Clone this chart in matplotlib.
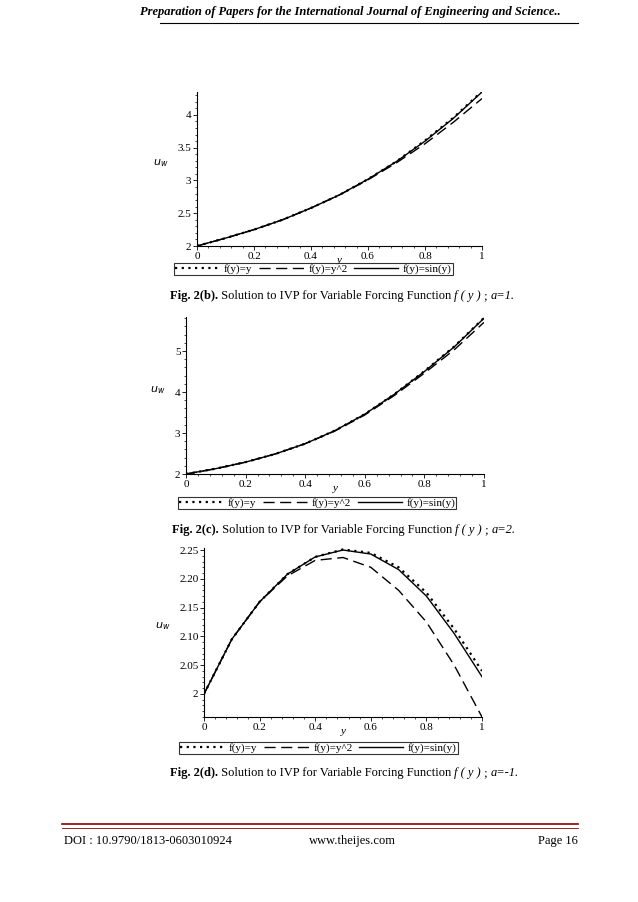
import numpy as np
import matplotlib
matplotlib.use('Agg')
import matplotlib.pyplot as plt
from matplotlib.ticker import MultipleLocator

plt.rcParams['font.family'] = ['Liberation Serif', 'DejaVu Serif']

W, H = 638, 902

y = [0.0, 0.1, 0.2, 0.3, 0.4, 0.5, 0.6, 0.7, 0.8, 0.9, 1.0]

# Fig 2(b), a=1
b_lin = [2.0, 2.12, 2.25, 2.40, 2.58, 2.78, 3.02, 3.29, 3.61, 3.96, 4.36]
b_sq = [2.0, 2.12, 2.25, 2.40, 2.58, 2.78, 3.01, 3.27, 3.56, 3.89, 4.25]
b_sin = [2.0, 2.12, 2.25, 2.40, 2.58, 2.78, 3.02, 3.29, 3.60, 3.95, 4.35]

# Fig 2(c), a=2
c_lin = [2.0, 2.13, 2.29, 2.49, 2.74, 3.06, 3.46, 3.95, 4.51, 5.11, 5.81]
c_sq = [2.0, 2.13, 2.29, 2.49, 2.74, 3.05, 3.44, 3.92, 4.46, 5.03, 5.70]
c_sin = [2.0, 2.13, 2.29, 2.49, 2.74, 3.06, 3.46, 3.95, 4.50, 5.10, 5.80]

# Fig 2(d), a=-1
d_lin = [2.0, 2.095, 2.16, 2.208, 2.238, 2.251, 2.245, 2.220, 2.176, 2.113, 2.040]
d_sq = [2.0, 2.095, 2.16, 2.205, 2.232, 2.237, 2.220, 2.180, 2.125, 2.050, 1.960]
d_sin = [2.0, 2.095, 2.16, 2.208, 2.238, 2.250, 2.243, 2.216, 2.170, 2.105, 2.030]

labels = ['f(y)=y', 'f(y)=y^2', 'f(y)=sin(y)']
captions = [('Fig. 2(b).', ' Solution to IVP for Variable Forcing Function ', 'f ( y )', ' ; ', 'a=1.'),
            ('Fig. 2(c).', ' Solution to IVP for Variable Forcing Function ', 'f ( y )', ' ; ', 'a=2.'),
            ('Fig. 2(d).', ' Solution to IVP for Variable Forcing Function ', 'f ( y )', ' ; ', 'a=-1.')]

fig = plt.figure(figsize=(W / 100, H / 100), dpi=100)


def rect(l, r, b, t):
    return [l / W, 1 - b / H, (r - l) / W, (b - t) / H]


panels = [
    dict(box=(197, 482, 246, 92), ylim=(2, 4.35), ymaj=0.5, ymin=0.1, data=(b_lin, b_sq, b_sin),
         yfmt=lambda v: '%g' % v, leg=(182, 445, 269), cap=(170, 296)),
    dict(box=(186, 484, 474, 317), ylim=(2, 5.83), ymaj=1, ymin=0.2, data=(c_lin, c_sq, c_sin),
         yfmt=lambda v: '%g' % v, leg=(186, 448, 503), cap=(172, 530)),
    dict(box=(204, 482, 717, 548), ylim=(1.96, 2.2535), ymaj=0.05, ymin=0.01, data=(d_lin, d_sq, d_sin),
         yfmt=lambda v: '2' if abs(v - 2) < 1e-9 else '%.2f' % v, leg=(190, 447, 748), cap=(170, 773)),
]

for p in panels:
    l, r, b, t = p['box']
    ax = fig.add_axes(rect(l, r, b, t))
    lin, sq, sn = p['data']
    ax.plot(y, lin, color='black', lw=1.6, ls=(0, (1, 2)))
    ax.plot(y, sq, color='black', lw=1.0, ls=(0, (8, 4)))
    ax.plot(y, sn, color='black', lw=1.0)
    ax.set_xlim(0, 1)
    ax.set_ylim(*p['ylim'])
    for s in ['top', 'right']:
        ax.spines[s].set_visible(False)
    ax.xaxis.set_minor_locator(MultipleLocator(0.04))
    ax.yaxis.set_major_locator(MultipleLocator(p['ymaj']))
    ax.yaxis.set_minor_locator(MultipleLocator(p['ymin']))
    ax.set_xticks([0, 0.2, 0.4, 0.6, 0.8, 1.0])
    ax.set_xticklabels(['0', '0.2', '0.4', '0.6', '0.8', '1'])
    ax.set_yticks([v for v in ax.get_yticks() if p['ylim'][0] - 1e-9 <= v <= p['ylim'][1]])
    ax.set_yticklabels([p['yfmt'](v) for v in ax.get_yticks()])
    ax.tick_params(labelsize=8, length=3, width=0.6, pad=1)
    ax.tick_params(which='minor', length=1.5, width=0.5)
    for s in ['left', 'bottom']:
        ax.spines[s].set_linewidth(0.8)
    ax.set_xlabel('y', fontstyle='italic', fontsize=8, labelpad=-3)
    ax.set_ylabel('$u_w$', fontsize=8, rotation=0, labelpad=12)

    ll, lr, ly = p['leg']
    leg = fig.legend(ax.get_lines(), labels, loc='center', ncol=3,
                     bbox_to_anchor=((ll + lr) / 2 / W, 1 - ly / H), fontsize=8,
                     frameon=True, fancybox=False, edgecolor='black', handlelength=4.0,
                     handletextpad=0.4, columnspacing=0.6, borderpad=0.1, borderaxespad=0)
    leg.get_frame().set_linewidth(0.8)

for p, c in zip(panels, captions):
    cx, cy = p['cap']
    fy = 1 - cy / H
    t = fig.text(cx / W, fy, c[0], fontsize=9, fontweight='bold', va='center')
    fig.canvas.draw()
    x = cx / W + t.get_window_extent().width / W
    for part, style in zip(c[1:], ['normal', 'italic', 'normal', 'italic']):
        t = fig.text(x, fy, part, fontsize=9, fontstyle=style, va='center')
        fig.canvas.draw()
        x += t.get_window_extent().width / W

# page header and footer
fig.text(350 / W, 1 - 12 / H, 'Preparation of Papers for the International Journal of Engineering and Science..',
         fontsize=9, fontstyle='italic', fontweight='bold', ha='center', va='center')
fig.add_artist(plt.Line2D([160 / W, 578 / W], [1 - 23 / H] * 2, color='black', lw=0.8))
for yy in (824, 828):
    fig.add_artist(plt.Line2D([62 / W, 578 / W], [1 - yy / H] * 2, color='#8b0000', lw=1.2 if yy == 824 else 0.6))
fig.text(64 / W, 1 - 841 / H, 'DOI : 10.9790/1813-0603010924', fontsize=9, va='center')
fig.text(352 / W, 1 - 841 / H, 'www.theijes.com', fontsize=9, va='center', ha='center')
fig.text(578 / W, 1 - 841 / H, 'Page 16', fontsize=9, va='center', ha='right')

fig.savefig('out.png', dpi=100, facecolor='white')
